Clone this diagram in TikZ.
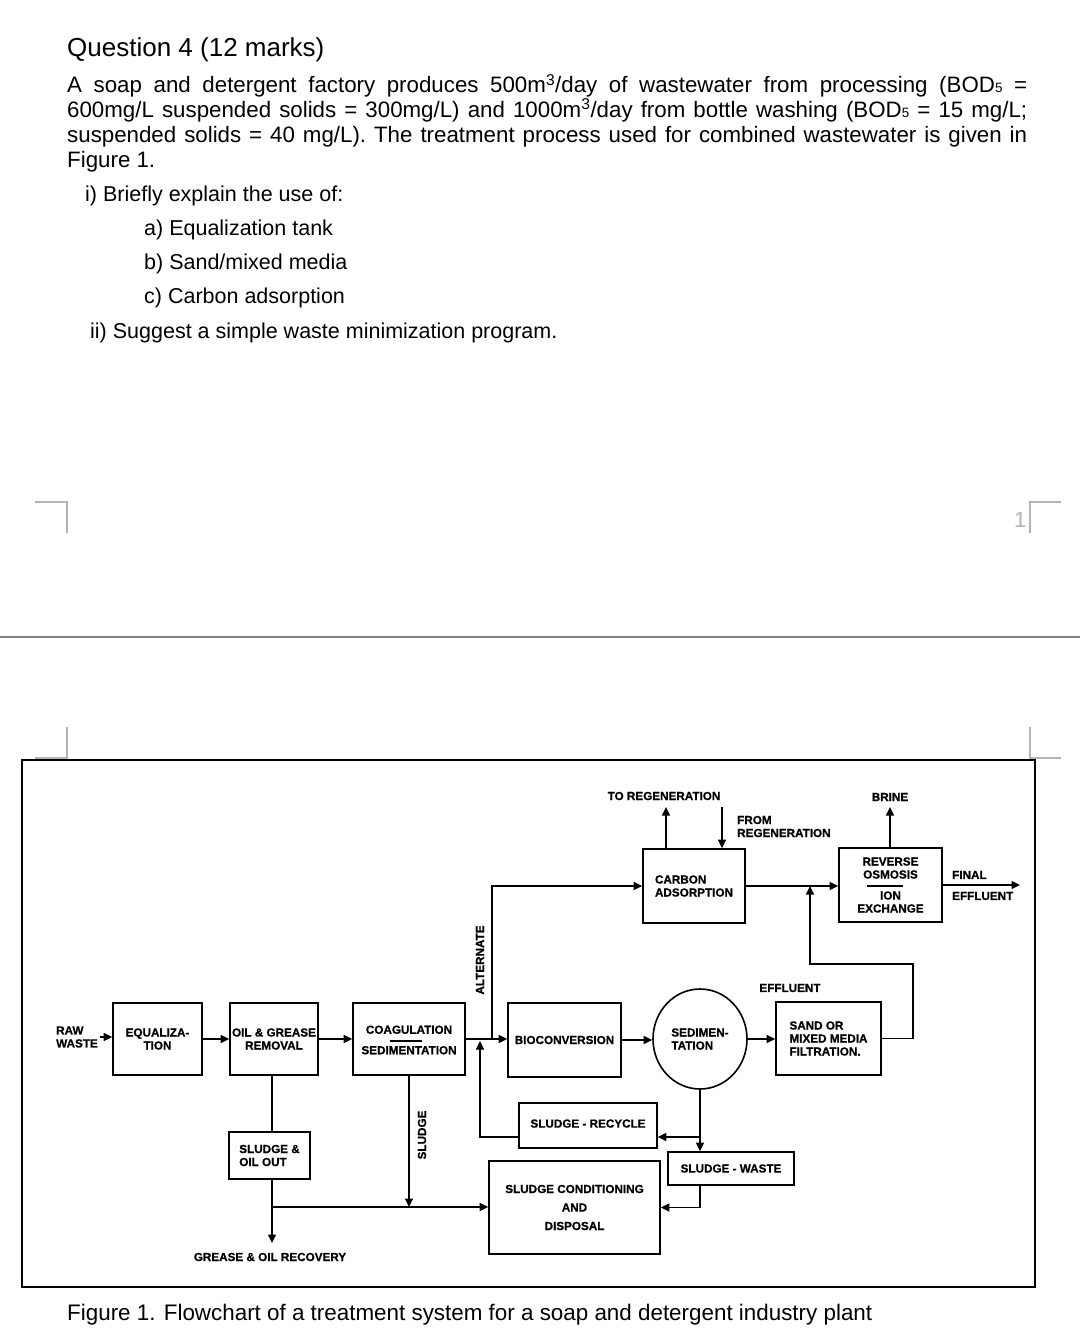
\documentclass[tikz,border=0pt]{standalone}
\usepackage{fontspec}
\usepackage{graphicx}
\setmainfont{Liberation Sans}
\newfontfamily\dfam[BoldFeatures={FakeBold=0.7}]{Liberation Sans}
\usetikzlibrary{arrows.meta,shapes.geometric}
\newcommand{\dlbl}{\dfam\fontsize{11.7}{13}\selectfont\bfseries}
\newcommand{\bodyf}{\fontsize{21.5}{25.5}\selectfont}
\newcommand{\parf}{\fontsize{22.3}{25.5}\selectfont}
\newcommand{\bodfive}{{\fontsize{13.5}{13.5}\selectfont 5}}
\definecolor{pagegray}{HTML}{B4B4B4}
\definecolor{sepgray}{HTML}{808080}
\tikzset{
  box/.style={draw, line width=1.6pt, inner sep=0pt, font=\dlbl, align=center},
  lbl/.style={font=\dlbl, inner sep=0pt, align=left},
  flow/.style={line width=1.6pt, -{Triangle[length=8.5pt,width=8pt]}},
  conn/.style={line width=1.6pt},
  pagemk/.style={line width=1.3pt, color=pagegray},
  txt/.style={anchor=base west, inner sep=0pt, font=\bodyf},
  partxt/.style={anchor=base west, inner sep=0pt, font=\parf},
  bar/.style={line width=1.2pt}
}
\begin{document}
\begin{tikzpicture}[x=1pt,y=-1pt]
\useasboundingbox (0,0) rectangle (1080,1337);
\fill[white] (0,0) rectangle (1080,1337);

% ---------- question text ----------
\node[txt, font=\fontsize{26}{30}\selectfont] (title) at (67,56.7) {Question 4 (12 marks)};
\node[partxt] (l1) at (67,92.7) {\makebox[960pt][s]{A soap and detergent factory produces 500m\textsuperscript{3}/day of wastewater from processing (BOD\bodfive{} =}};
\node[partxt] (l2) at (67,117.3) {\makebox[960pt][s]{600mg/L suspended solids = 300mg/L) and 1000m\textsuperscript{3}/day from bottle washing (BOD\bodfive{} = 15 mg/L;}};
\node[partxt] (l3) at (67,142.7) {\makebox[960pt][s]{suspended solids = 40 mg/L). The treatment process used for combined wastewater is given in}};
\node[partxt] (l4) at (67,167.3) {Figure 1.};
\node[txt] (qi) at (85,202) {i) Briefly explain the use of:};
\node[txt] (qa) at (144,236) {a) Equalization tank};
\node[txt] (qb) at (144,270) {b) Sand/mixed media};
\node[txt] (qc) at (144,304) {c) Carbon adsorption};
\node[txt] (qii) at (90,338) {ii) Suggest a simple waste minimization program.};

% ---------- page decorations ----------
\draw[pagemk] (35,502) -- (67,502) -- (67,533);
\draw[pagemk] (1030,533) -- (1030,502) -- (1061,502);
\node[txt, text=pagegray, font=\fontsize{22}{22}\selectfont] (pnum) at (1014,527) {1};
\draw[line width=2.5pt, color=sepgray] (0,637) -- (1080,637);
\draw[pagemk] (67,727) -- (67,758) -- (35,758);
\draw[pagemk] (1030,727) -- (1030,758) -- (1061,758);

% ---------- figure frame ----------
\draw[line width=1.5pt] (22,760) rectangle (1035,1287);

% ---------- process boxes ----------
\node[box, minimum width=89pt, minimum height=72pt] (eq) at (157.5,1039) {EQUALIZA-\\TION};
\node[box, minimum width=88pt, minimum height=72pt] (oil) at (274,1039) {OIL \& GREASE\\REMOVAL};
\node[box, minimum width=112pt, minimum height=72pt] (coag) at (409,1039) {\raisebox{-5.4pt}[0pt][0pt]{\begin{tabular}{@{}c@{}}COAGULATION\\[7.5pt]SEDIMENTATION\end{tabular}}};
\draw[bar] (390,1041) -- (422,1041);
\node[box, minimum width=113pt, minimum height=74pt] (bio) at (564.5,1040) {BIOCONVERSION};
\node[box, ellipse, minimum width=94pt, minimum height=100pt, align=left] (sed) at (700,1039) {SEDIMEN-\\TATION};
\node[box, minimum width=105pt, minimum height=73pt, align=left] (sand) at (828.5,1038.5) {SAND OR\\MIXED MEDIA\\FILTRATION.};
\node[box, minimum width=102pt, minimum height=74pt, align=left] (carbon) at (694,886) {CARBON\\ADSORPTION};
\node[box, minimum width=103pt, minimum height=74pt] (ro) at (890.5,885) {REVERSE\\OSMOSIS\\[8pt]ION\\EXCHANGE};
\draw[bar] (867,886) -- (903,886);
\node[box, minimum width=138pt, minimum height=45pt] (rec) at (588,1125.5) {\raisebox{4pt}{SLUDGE - RECYCLE}};
\node[box, minimum width=126pt, minimum height=33pt] (sw) at (731,1168.5) {SLUDGE - WASTE};
\node[box, minimum width=171pt, minimum height=93pt] (sc) at (574.5,1207.5) {SLUDGE CONDITIONING\\[5.5pt]AND\\[5.5pt]DISPOSAL};
\node[box, minimum width=81pt, minimum height=47pt, align=left] (so) at (269.5,1155.5) {SLUDGE \&\\OIL OUT};

% ---------- labels ----------
\node[lbl, anchor=west] (raw) at (56,1037) {RAW\\WASTE};
\node[lbl] (toreg) at (664,796) {TO REGENERATION};
\node[lbl, anchor=west] (fromreg) at (737,826.5) {FROM\\REGENERATION};
\node[lbl] (brine) at (890,797) {BRINE};
\node[lbl, anchor=west] (final) at (952,885.5) {FINAL\\[8pt]EFFLUENT};
\node[lbl] (effl) at (790,988) {EFFLUENT};
\node[lbl, rotate=90] (alt) at (480,960) {ALTERNATE};
\node[lbl, rotate=90] (sludge) at (422,1135) {SLUDGE};
\node[lbl] (grease) at (270,1257) {GREASE \& OIL RECOVERY};

% ---------- coordinates ----------
\coordinate (jalt) at (492,1039);
\coordinate (jeff) at (810,886);
\coordinate (toregtip) at (666,807);
\coordinate (fromregtop) at (722,807);
\coordinate (brinetip) at (890,807);
\coordinate (finaltip) at (1020,885);
\coordinate (jrec) at (700,1137);
\coordinate (jret) at (480,1041);
\coordinate (gx) at (272,1207);
\coordinate (gtip) at (272,1243);

% ---------- connectors ----------
\draw[flow] ([xshift=2pt]raw.east) -- (raw.east -| eq.west);
\draw[flow] (eq.east) -- (oil.west);
\draw[flow] (oil.east) -- (coag.west);
\draw[flow] (coag.east) -- (coag.east -| bio.west);
\draw[flow] (jalt) |- (carbon.west);
\draw[flow] (bio.east) -- (bio.east -| sed.west);
\draw[flow] (sed.east) -- (sed.east -| sand.west);
\draw[flow] (carbon.east) -- (carbon.east -| ro.west);
\draw[flow] (sand.east) -| (913,964) -| (jeff);
\draw[flow] (carbon.north -| toregtip) -- (toregtip);
\draw[flow] (fromregtop) -- (carbon.north -| fromregtop);
\draw[flow] (ro.north -| brinetip) -- (brinetip);
\draw[flow] (ro.east) -- (finaltip);

\draw[flow] (sed.south) -- (sed.south |- sw.north);
\draw[flow] (jrec) -- (jrec -| rec.east);
\draw[flow] (rec.west |- jrec) -| (jret);
\draw[flow] (sw.south -| jrec) |- (sc.east);
\draw[conn] (oil.south -| gx) -- (so.north -| gx);
\draw[flow] (so.south -| gx) -- (gtip);
\draw[flow] (gx) -- (gx -| sc.west);
\draw[flow] (coag.south) -- (coag.south |- gx);

% ---------- caption ----------
\node[txt] (cap) at (67,1320) {\resizebox{805pt}{\height}{\fontsize{22.5}{22.5}\selectfont Figure 1. Flowchart of a treatment system for a soap and detergent industry plant}};
\end{tikzpicture}
\end{document}
